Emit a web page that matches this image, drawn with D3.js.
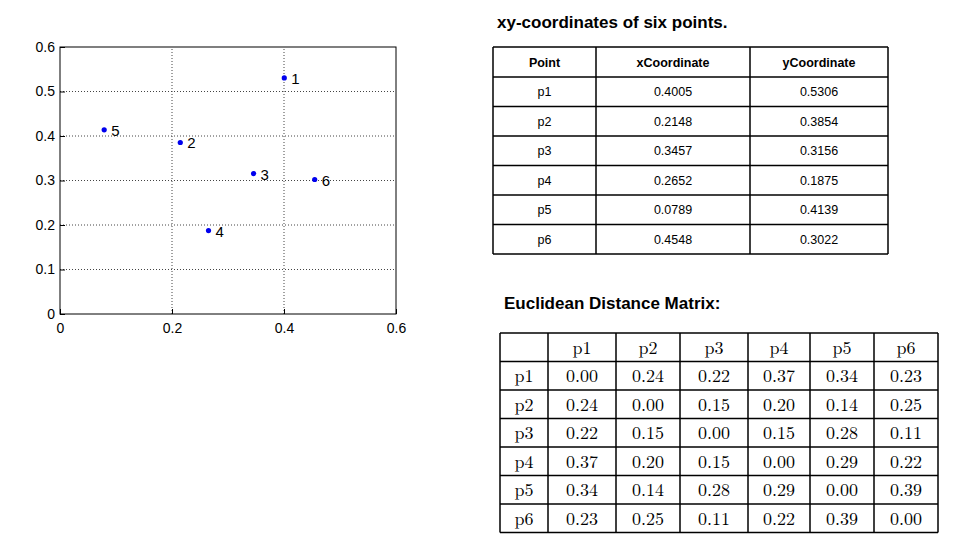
<!DOCTYPE html>
<html><head><meta charset="utf-8">
<script src="https://d3js.org/d3.v7.min.js"></script>
<style>body{margin:0;background:#fff}</style>
</head><body>
<svg id="c" width="966" height="554"></svg>
<script>
// data
var pointNames = ["p1", "p2", "p3", "p4", "p5", "p6"];
var xCoords = [0.4005, 0.2148, 0.3457, 0.2652, 0.0789, 0.4548];
var yCoords = [0.5306, 0.3854, 0.3156, 0.1875, 0.4139, 0.3022];
var ticks = [0, 0.1, 0.2, 0.3, 0.4, 0.5, 0.6];
var xTickLabels = [0, 0.2, 0.4, 0.6];
var distances = [
  ["0.00", "0.24", "0.22", "0.37", "0.34", "0.23"],
  ["0.24", "0.00", "0.15", "0.20", "0.14", "0.25"],
  ["0.22", "0.15", "0.00", "0.15", "0.28", "0.11"],
  ["0.37", "0.20", "0.15", "0.00", "0.29", "0.22"],
  ["0.34", "0.14", "0.28", "0.29", "0.00", "0.39"],
  ["0.23", "0.25", "0.11", "0.22", "0.39", "0.00"]
];

var svg = d3.select("#c");
var x = d3.scaleLinear().domain([0, 0.6]).range([60, 396]);
var y = d3.scaleLinear().domain([0, 0.6]).range([314, 47]);

// grid
var g = svg.append("g");
g.selectAll(".vx").data([0.2, 0.4]).enter().append("line")
  .attr("x1", d => x(d)).attr("x2", d => x(d)).attr("y1", y(0)).attr("y2", y(0.6))
  .attr("stroke", "#444").attr("stroke-dasharray", "1,2");
g.selectAll(".hy").data(ticks.slice(1, 6)).enter().append("line")
  .attr("y1", d => y(d)).attr("y2", d => y(d)).attr("x1", x(0)).attr("x2", x(0.6))
  .attr("stroke", "#444").attr("stroke-dasharray", "1,2");
g.append("rect").attr("x", x(0)).attr("y", y(0.6)).attr("width", x(0.6) - x(0)).attr("height", y(0) - y(0.6))
  .attr("fill", "none").attr("stroke", "#000");

// axes
svg.append("g").attr("transform", "translate(0," + y(0) + ")")
  .call(d3.axisBottom(x).tickValues(xTickLabels).tickSize(-5).tickPadding(9).tickFormat(d3.format("")))
  .call(a => a.select(".domain").remove());
svg.append("g").attr("transform", "translate(" + x(0) + ",0)")
  .call(d3.axisLeft(y).tickValues(ticks).tickSize(-5).tickPadding(5).tickFormat(d3.format("")))
  .call(a => a.select(".domain").remove());
svg.selectAll(".tick text").attr("font-family", "Arial, Liberation Sans").attr("font-size", 14).attr("fill", "#000");
svg.selectAll(".tick line").attr("stroke", "#000");

// points
xCoords.forEach(function (xv, i) {
  svg.append("circle").attr("cx", x(xv)).attr("cy", y(yCoords[i])).attr("r", 2.6).attr("fill", "#0000ee");
  svg.append("text").attr("x", x(xv) + 7).attr("y", y(yCoords[i]) + 6)
    .attr("font-family", "Arial, Liberation Sans").attr("font-size", 15).text(i + 1);
});

// table 1
svg.append("text").attr("x", 497).attr("y", 28).attr("font-family", "Arial, Liberation Sans")
  .attr("font-weight", "bold").attr("font-size", 17).text("xy-coordinates of six points.");
var c1 = [493, 596, 750, 888];
var r1 = [47, 77].concat(d3.range(1, 7).map(i => 77 + i * 29.5));
var t1 = svg.append("g");
r1.forEach(v => t1.append("line").attr("x1", c1[0]).attr("x2", c1[3]).attr("y1", v).attr("y2", v).attr("stroke", "#000").attr("stroke-width", 1.5));
c1.forEach(v => t1.append("line").attr("x1", v).attr("x2", v).attr("y1", r1[0]).attr("y2", r1[r1.length - 1]).attr("stroke", "#000").attr("stroke-width", 1.5));
var rows1 = [["Point", "xCoordinate", "yCoordinate"]].concat(pointNames.map((p, i) => [p, xCoords[i].toFixed(4), yCoords[i].toFixed(4)]));
rows1.forEach(function (row, ri) {
  row.forEach(function (cell, ci) {
    t1.append("text").attr("x", (c1[ci] + c1[ci + 1]) / 2).attr("y", (r1[ri] + r1[ri + 1]) / 2 + 4.5)
      .attr("text-anchor", "middle").attr("font-family", "Arial, Liberation Sans").attr("font-size", 12.5)
      .attr("font-weight", ri === 0 ? "bold" : "normal").text(cell);
  });
});

// table 2
svg.append("text").attr("x", 504).attr("y", 309).attr("font-family", "Arial, Liberation Sans")
  .attr("font-weight", "bold").attr("font-size", 17).text("Euclidean Distance Matrix:");
var c2 = [500, 548, 616, 680, 748, 810, 874, 938];
var r2 = d3.range(8).map(i => 333 + i * 28.5);
var t2 = svg.append("g");
r2.forEach(v => t2.append("line").attr("x1", c2[0]).attr("x2", c2[7]).attr("y1", v).attr("y2", v).attr("stroke", "#000").attr("stroke-width", 1.5));
c2.forEach(v => t2.append("line").attr("x1", v).attr("x2", v).attr("y1", r2[0]).attr("y2", r2[7]).attr("stroke", "#000").attr("stroke-width", 1.5));
var rows2 = [[""].concat(pointNames)].concat(pointNames.map((p, i) => [p].concat(distances[i])));
rows2.forEach(function (row, ri) {
  row.forEach(function (cell, ci) {
    t2.append("text").attr("x", (c2[ci] + c2[ci + 1]) / 2).attr("y", (r2[ri] + r2[ri + 1]) / 2 + 6.5)
      .attr("text-anchor", "middle").attr("font-family", "Latin Modern Roman, DejaVu Serif, Liberation Serif")
      .attr("font-size", 18).text(cell);
  });
});
</script>
</body></html>
